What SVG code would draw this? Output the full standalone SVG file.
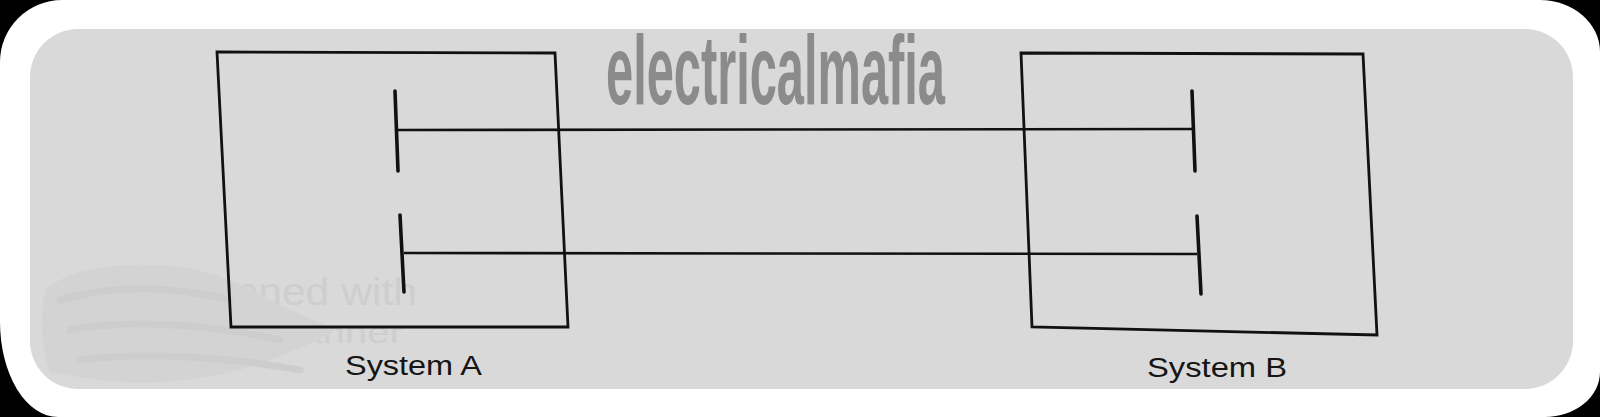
<svg xmlns="http://www.w3.org/2000/svg" width="1600" height="417" viewBox="0 0 1600 417">
  <style>
    .box { fill: none; stroke: #111; stroke-width: 2.8; stroke-linejoin: miter; }
    .bar { stroke: #111; stroke-width: 3.6; stroke-linecap: round; }
    .wire { fill: none; stroke: #111; stroke-width: 2.6; }
    .label { font-family: "Liberation Sans", Arial, sans-serif; font-size: 27px; fill: #151515; }
    .wm { font-family: "Liberation Sans", Arial, sans-serif; fill: #cecece; }
  </style>
  <rect x="0" y="0" width="1600" height="417" fill="#000"/>
  <path d="M62,0 H1540 A60,52 0 0 1 1600,52 V372 A55,45 0 0 1 1545,417 H58 A58,95 0 0 1 0,322 V62 A62,62 0 0 1 62,0 Z" fill="#fff"/>
  <rect x="30" y="29" width="1543" height="360" rx="48" ry="48" fill="#d9d9d9"/>

  <g id="watermark">
    <text class="wm" x="161" y="305" font-size="38" textLength="256" lengthAdjust="spacingAndGlyphs">Scanned with</text>
    <text class="wm" x="168" y="343" font-size="30" textLength="235" lengthAdjust="spacingAndGlyphs">CamScanner</text>
    <path d="M45,290 C70,268 120,262 170,266 C210,270 240,282 270,300 C300,315 320,322 335,330 C310,345 290,352 270,360 C240,372 200,380 160,382 C120,384 80,378 50,372 C40,345 40,315 45,290 Z" fill="#d3d3d3"/>
    <path d="M60,300 C110,285 170,285 230,300 M70,330 C120,320 200,322 280,340 M80,360 C140,352 220,356 300,370" fill="none" stroke="#cdcdcd" stroke-width="7" stroke-linecap="round"/>
  </g>

  <text id="brand" x="606" y="104" font-family="'Liberation Sans', Arial, sans-serif" font-weight="bold" font-size="98" fill="#8b8b8b" textLength="339" lengthAdjust="spacingAndGlyphs">electricalmafia</text>

  <g id="system-a">
    <polygon class="box" points="217,52 555,53 568,327 231,327"/>
    <line class="bar" x1="395" y1="91" x2="398" y2="171"/>
    <line class="bar" x1="400" y1="215" x2="404" y2="292"/>
    <text class="label" x="345" y="375" textLength="137" lengthAdjust="spacingAndGlyphs">System  A</text>
  </g>

  <g id="system-b">
    <polygon class="box" points="1021,53 1363,54 1377,335 1032,327"/>
    <line class="bar" x1="1192" y1="91" x2="1195" y2="171"/>
    <line class="bar" x1="1197" y1="216" x2="1201" y2="294"/>
    <text class="label" x="1147" y="377" textLength="140" lengthAdjust="spacingAndGlyphs">System  B</text>
  </g>

  <g id="connectors">
    <line class="wire" x1="398" y1="130" x2="1192" y2="129"/>
    <line class="wire" x1="404" y1="253" x2="1197" y2="254"/>
  </g>
</svg>
